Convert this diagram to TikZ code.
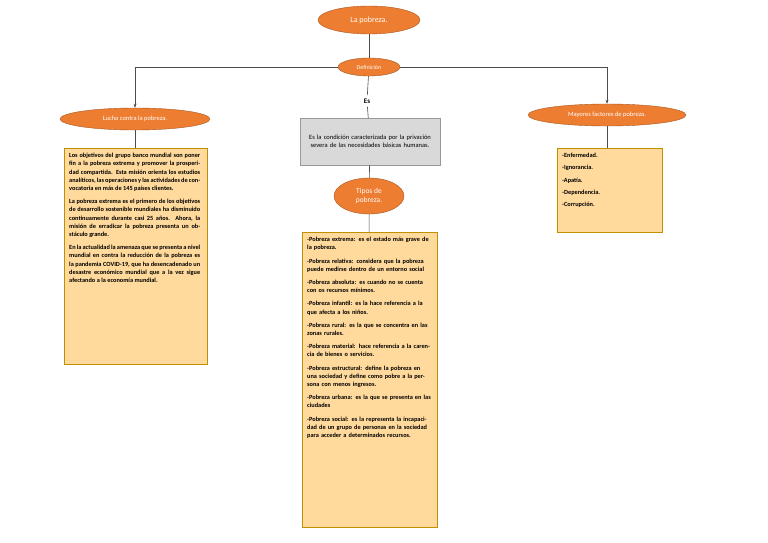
\documentclass[tikz,border=0pt]{standalone}
\usepackage{fontspec}
\setmainfont{Carlito}
\usetikzlibrary{arrows.meta,shapes.geometric}
\definecolor{org}{HTML}{ED7D31}
\definecolor{boxf}{HTML}{FFDA9C}
\definecolor{boxd}{HTML}{BF9000}
\begin{document}
\begin{tikzpicture}[x=1pt,y=-1pt,
 ell/.style={ellipse,draw=org!70!black,fill=org,text=white,font=\fontsize{6.5}{7}\selectfont,inner sep=0pt},
 boxr/.style={draw=boxd,line width=0.8pt,fill=boxf,anchor=north west,inner sep=0pt},
 tbox/.style={align=justify,font=\bfseries\fontsize{6.3}{8.2}\selectfont,inner sep=5pt,anchor=north west},
 ln/.style={draw=black!70,line width=0.6pt},
 arr/.style={ln,-{Stealth[length=4pt]}}]
\useasboundingbox (0,0) rectangle (768,543);
\node[ell,minimum width=102,minimum height=28,font=\fontsize{8}{9}\selectfont] (t) at (369,20) {La pobreza.};
\node[ell,minimum width=62,minimum height=18,font=\fontsize{6}{6}\selectfont] (d) at (369,67) {Definición};
\node[ell,minimum width=150,minimum height=22] (l) at (135,119) {Lucha contra la pobreza.};
\node[ell,minimum width=158,minimum height=22] (r) at (607,115) {Mayores factores de pobreza.};
\node[font=\bfseries\fontsize{7}{8}\selectfont] (es) at (367,101) {Es};
\node[draw=black!40,fill=black!15,minimum width=140,minimum height=47,align=center,font=\fontsize{6.5}{8}\selectfont,text width=130] (g) at (370,141.5) {Es la condición caracterizada por la privación severa de las necesidades básicas humanas.};
\node[ell,minimum width=70,minimum height=36,align=center,font=\fontsize{7.5}{8.5}\selectfont] (tp) at (369,196) {Tipos de\\pobreza.};
\node[boxr,minimum width=143,minimum height=216] (lb) at (64,148) {};
\node[tbox,text width=131] (lbt) at (lb.north west) {Los objetivos del grupo banco mundial son poner fin a la pobreza extrema y promover la prosperidad compartida. Esta misión orienta los estudios analíticos, las operaciones y las actividades de convocatoria en más de 145 países clientes.\par\vspace{5pt}La pobreza extrema es el primero de los objetivos de desarrollo sostenible mundiales ha disminuido continuamente durante casi 25 años. Ahora, la misión de erradicar la pobreza presenta un obstáculo grande.\par\vspace{5pt}En la actualidad la amenaza que se presenta a nivel mundial en contra la reducción de la pobreza es la pandemia COVID-19, que ha desencadenado un desastre económico mundial que a la vez sigue afectando a la economía mundial.};
\node[boxr,minimum width=135,minimum height=295] (bb) at (302,232) {};
\node[tbox,align=left,text width=125] (bbt) at (bb.north west) {-Pobreza extrema: es el estado más grave de la pobreza.\par\vspace{5pt}-Pobreza relativa: considera que la pobreza puede medirse dentro de un entorno social\par\vspace{5pt}-Pobreza absoluta: es cuando no se cuenta con os recursos mínimos.\par\vspace{5pt}-Pobreza infantil: es la hace referencia a la que afecta a los niños.\par\vspace{5pt}-Pobreza rural: es la que se concentra en las zonas rurales.\par\vspace{5pt}-Pobreza material: hace referencia a la carencia de bienes o servicios.\par\vspace{5pt}-Pobreza estructural: define la pobreza en una sociedad y define como pobre a la persona con menos ingresos.\par\vspace{5pt}-Pobreza urbana: es la que se presenta en las ciudades\par\vspace{5pt}-Pobreza social: es la representa la incapacidad de un grupo de personas en la sociedad para acceder a determinados recursos.};
\node[boxr,minimum width=105,minimum height=84] (rb) at (557,148) {};
\node[tbox,align=left,text width=95] (rbt) at (rb.north west) {-Enfermedad.\par\vspace{4pt}-Ignorancia.\par\vspace{4pt}-Apatía.\par\vspace{4pt}-Dependencia.\par\vspace{4pt}-Corrupción.};
\draw[ln] (t) -- (d);
\draw[arr] (d.west) -| (l.north);
\draw[arr] (d.east) -| (r.north);
\draw[ln] (d) -- (es);
\draw[ln] (es) -- (g);
\draw[ln] (g) -- (tp);
\draw[ln] (tp) -- (bb);
\draw[ln] (l) -- (lb.north -| l);
\draw[ln] (r) -- (rb.north -| r);
\end{tikzpicture}
\end{document}
